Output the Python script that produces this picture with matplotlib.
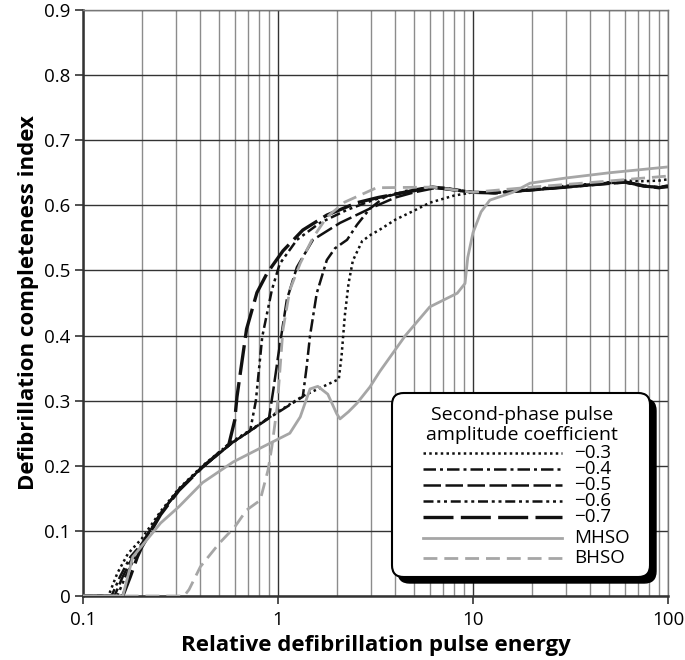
import matplotlib
matplotlib.use("Agg")
import matplotlib.pyplot as plt
from matplotlib.patches import FancyBboxPatch
from matplotlib.lines import Line2D
from matplotlib.ticker import LogLocator, FixedLocator, NullFormatter

plt.rcParams['font.family'] = ['Open Sans', 'DejaVu Sans']

# ---- data ----
x_03 = [0.1, 0.135, 0.15, 0.17, 0.2, 0.25, 0.31, 0.41, 0.58, 0.74, 0.93, 1.34, 2.05, 2.12, 2.2, 2.3, 2.42, 2.7, 3.0, 3.3, 4.0, 5.0, 6.0, 8.0, 10, 13, 20, 30, 45, 60, 75, 90, 100]
y_03 = [0, 0, 0.035, 0.065, 0.088, 0.13, 0.165, 0.2, 0.237, 0.257, 0.277, 0.307, 0.333, 0.37, 0.43, 0.48, 0.515, 0.545, 0.555, 0.562, 0.578, 0.592, 0.604, 0.615, 0.62, 0.62, 0.625, 0.63, 0.634, 0.638, 0.637, 0.638, 0.64]

x_04 = [0.1, 0.14, 0.155, 0.175, 0.2, 0.25, 0.31, 0.41, 0.58, 0.74, 0.93, 1.34, 1.4, 1.46, 1.58, 1.78, 1.96, 2.26, 2.54, 2.96, 3.5, 4.5, 6, 8, 10, 13, 20, 30, 45, 60, 75, 90, 100]
y_04 = [0, 0, 0.03, 0.06, 0.08, 0.127, 0.163, 0.198, 0.235, 0.256, 0.276, 0.306, 0.35, 0.4, 0.465, 0.516, 0.534, 0.547, 0.57, 0.595, 0.612, 0.622, 0.628, 0.624, 0.62, 0.619, 0.624, 0.628, 0.633, 0.636, 0.63, 0.628, 0.63]

x_05 = [0.1, 0.145, 0.16, 0.18, 0.2, 0.25, 0.31, 0.41, 0.58, 0.74, 0.9, 0.95, 1.0, 1.11, 1.25, 1.51, 2.08, 2.96, 4.0, 5.0, 6.5, 8, 10, 13, 20, 30, 45, 60, 75, 90, 100]
y_05 = [0, 0, 0.03, 0.06, 0.08, 0.127, 0.163, 0.198, 0.235, 0.256, 0.274, 0.32, 0.367, 0.455, 0.505, 0.547, 0.573, 0.595, 0.612, 0.62, 0.627, 0.623, 0.62, 0.619, 0.623, 0.628, 0.632, 0.635, 0.629, 0.627, 0.628]

x_06 = [0.1, 0.15, 0.165, 0.185, 0.2, 0.25, 0.31, 0.41, 0.58, 0.72, 0.77, 0.83, 0.93, 1.02, 1.25, 1.64, 2.26, 3.07, 4.0, 5.5, 7, 10, 13, 20, 30, 45, 60, 75, 90, 100]
y_06 = [0, 0, 0.03, 0.06, 0.078, 0.127, 0.163, 0.198, 0.235, 0.254, 0.3, 0.398, 0.47, 0.51, 0.547, 0.573, 0.593, 0.608, 0.618, 0.626, 0.627, 0.62, 0.619, 0.624, 0.628, 0.633, 0.636, 0.63, 0.627, 0.629]

x_07 = [0.1, 0.16, 0.175, 0.19, 0.2, 0.25, 0.31, 0.41, 0.56, 0.6, 0.616, 0.69, 0.78, 0.88, 1.06, 1.34, 1.78, 2.54, 3.26, 4.5, 6.2, 8, 10, 13, 20, 30, 45, 60, 75, 90, 100]
y_07 = [0, 0, 0.03, 0.06, 0.075, 0.125, 0.162, 0.198, 0.233, 0.27, 0.306, 0.41, 0.466, 0.496, 0.53, 0.562, 0.585, 0.604, 0.612, 0.62, 0.628, 0.624, 0.62, 0.619, 0.624, 0.628, 0.633, 0.636, 0.63, 0.627, 0.63]

x_mhso = [0.1, 0.16, 0.18, 0.25, 0.31, 0.41, 0.59, 0.81, 1.15, 1.3, 1.46, 1.6, 1.8, 2.0, 2.08, 2.3, 2.54, 2.96, 3.33, 4.5, 6.0, 8.3, 9.1, 9.4, 10, 11, 12.2, 14, 16, 19.6, 30, 50, 100]
y_mhso = [0, 0, 0.06, 0.112, 0.137, 0.174, 0.206, 0.227, 0.25, 0.275, 0.318, 0.322, 0.31, 0.28, 0.272, 0.283, 0.296, 0.321, 0.345, 0.4, 0.444, 0.465, 0.48, 0.52, 0.558, 0.59, 0.608, 0.614, 0.62, 0.634, 0.642, 0.65, 0.659]

x_bhso = [0.1, 0.33, 0.35, 0.4, 0.5, 0.6, 0.69, 0.81, 0.89, 0.93, 0.99, 1.06, 1.15, 1.3, 1.51, 1.78, 2.2, 3.2, 6.2, 10, 20, 40, 100]
y_bhso = [0, 0, 0.01, 0.045, 0.081, 0.106, 0.132, 0.147, 0.194, 0.229, 0.29, 0.409, 0.47, 0.511, 0.55, 0.582, 0.605, 0.627, 0.628, 0.62, 0.628, 0.635, 0.645]

labels = ['\u22120.3', '\u22120.4', '\u22120.5', '\u22120.6', '\u22120.7', 'MHSO', 'BHSO']
y_ticks = [0, 0.1, 0.2, 0.3, 0.4, 0.5, 0.6, 0.7, 0.8, 0.9]
y_tick_labels = ['0', '0.1', '0.2', '0.3', '0.4', '0.5', '0.6', '0.7', '0.8', '0.9']
x_ticks = [0.1, 1, 10, 100]
x_tick_labels = ['0.1', '1', '10', '100']

# ---- styles ----
styles = [
    dict(color='#111111', lw=1.8, ls=(0, (1.0, 1.3))),
    dict(color='#111111', lw=1.8, ls=(0, (5, 1.6, 1.2, 1.6))),
    dict(color='#111111', lw=1.8, ls=(0, (7, 1.8))),
    dict(color='#111111', lw=1.8, ls=(0, (4, 1.5, 1.2, 1.5, 1.2, 1.5))),
    dict(color='#111111', lw=2.4, ls=(0, (9, 2.2))),
    dict(color='#a6a6a6', lw=2.0, ls='-'),
    dict(color='#a6a6a6', lw=2.0, ls=(0, (5, 2.5))),
]
series = [(x_03, y_03), (x_04, y_04), (x_05, y_05), (x_06, y_06), (x_07, y_07), (x_mhso, y_mhso), (x_bhso, y_bhso)]

fig = plt.figure(figsize=(6.85, 6.6), dpi=100)
ax = fig.add_axes([83/685, (660-596)/660, 585/685, 586/660])
ax.set_xscale('log')
ax.set_xlim(0.1, 100)
ax.set_ylim(0, 0.9)

# grid
ax.xaxis.set_major_locator(FixedLocator(x_ticks))
ax.xaxis.set_minor_locator(LogLocator(base=10, subs=range(2, 10)))
ax.xaxis.set_minor_formatter(NullFormatter())
ax.set_xticks(x_ticks)
ax.set_xticklabels(x_tick_labels)
ax.set_yticks(y_ticks)
ax.set_yticklabels(y_tick_labels)
ax.grid(True, which='major', axis='both', color='#333333', lw=1.0)
ax.grid(True, which='minor', axis='x', color='#8c8c8c', lw=1.0)
ax.tick_params(axis='both', which='major', direction='out', length=6, width=1.2, color='#333333', labelsize=13.5)
ax.tick_params(axis='x', which='major', pad=5)
ax.tick_params(axis='y', which='major', pad=3)
ax.tick_params(axis='x', which='minor', length=0)
ax.set_axisbelow(True)

for s in ['top', 'right']:
    ax.spines[s].set_color('#777777')
    ax.spines[s].set_linewidth(1.0)
for s in ['left', 'bottom']:
    ax.spines[s].set_color('#333333')
    ax.spines[s].set_linewidth(1.8)

# draw series (black on top)
order = [5, 6, 0, 1, 2, 3, 4]
for i in order:
    xs, ys = series[i]
    ax.plot(xs, ys, solid_capstyle='butt', dash_capstyle='butt', zorder=3 + i * 0.1, **styles[i])

ax.set_xlabel('Relative defibrillation pulse energy', fontsize=16, fontweight='bold', labelpad=4)
ax.set_ylabel('Defibrillation completeness index', fontsize=16, fontweight='bold', labelpad=4)

# ---- legend (manual, axes coords) ----
def fx(px):
    return (px - 83) / 585
def fy(py):
    return (596 - py) / 586

bx0, bx1, by0, by1 = fx(392), fx(650), fy(577), fy(393)
shadow = FancyBboxPatch((bx0 + 6/585, by0 - 6/586), bx1 - bx0, by1 - by0,
                        boxstyle='round,pad=0,rounding_size=0.02', transform=ax.transAxes,
                        fc='black', ec='black', lw=1.0, zorder=10, clip_on=False)
box = FancyBboxPatch((bx0, by0), bx1 - bx0, by1 - by0,
                     boxstyle='round,pad=0,rounding_size=0.02', transform=ax.transAxes,
                     fc='white', ec='black', lw=1.5, zorder=11, clip_on=False)
ax.add_patch(shadow)
ax.add_patch(box)
ax.text(fx(522), fy(425), 'Second-phase pulse\namplitude coefficient', transform=ax.transAxes,
        ha='center', va='center', fontsize=14, linespacing=1.2, multialignment='center', zorder=12)
row_y = [453, 469, 485, 501, 517, 538, 558]
for i in range(len(labels)):
    yy = fy(row_y[i])
    ln = Line2D([fx(423), fx(562)], [yy, yy], transform=ax.transAxes, zorder=12, dash_capstyle='butt', **styles[i])
    ax.add_line(ln)
# label texts as two blocks so rows share single text objects
ax.text(fx(574), fy((row_y[0] + row_y[4]) / 2), '\n'.join(labels[:5]), transform=ax.transAxes,
        ha='left', va='center', fontsize=13.5, linespacing=0.86, zorder=12)
ax.text(fx(574), fy((row_y[5] + row_y[6]) / 2), '\n'.join(labels[5:]), transform=ax.transAxes,
        ha='left', va='center', fontsize=13.5, linespacing=1.1, zorder=12)

fig.savefig('out.png', dpi=100)
